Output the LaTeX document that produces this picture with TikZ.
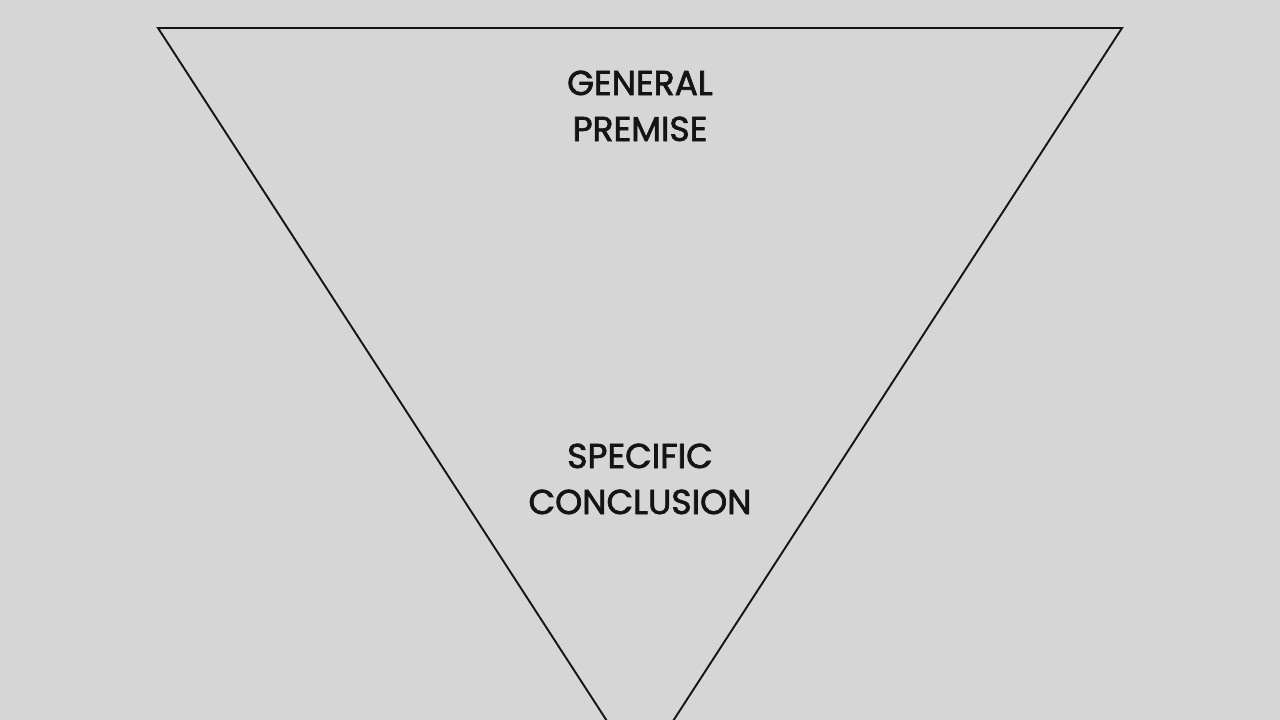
\documentclass[tikz,border=0pt]{standalone}
\usepackage{fontspec}
\setmainfont{Poppins}
\newfontfamily\lblfont{Poppins}[FakeBold=2]
\definecolor{bg}{HTML}{D6D6D6}
\definecolor{ink}{HTML}{141414}
\begin{document}
\begin{tikzpicture}[x=1pt,y=-1pt,
  lbl/.style={font=\lblfont\fontsize{34.5}{46}\selectfont, text=ink, align=center, inner sep=0pt}]
\fill[bg] (0,0) rectangle (1280,720);
\useasboundingbox (0,0) rectangle (1280,720);
\begin{scope}
\clip (0,0) rectangle (1280,720);
\coordinate (tl) at (158,28);
\coordinate (tr) at (1122,28);
\coordinate (ap) at (640,772);
\draw[ink, line width=1.9pt, line join=miter] (tl) -- (tr) -- (ap) -- cycle;
\end{scope}
\node[lbl, anchor=base] (g) at (640,141) {GENERAL\\PREMISE};
\node[lbl, anchor=base] (s) at (640,514) {SPECIFIC\\CONCLUSION};
\end{tikzpicture}
\end{document}
